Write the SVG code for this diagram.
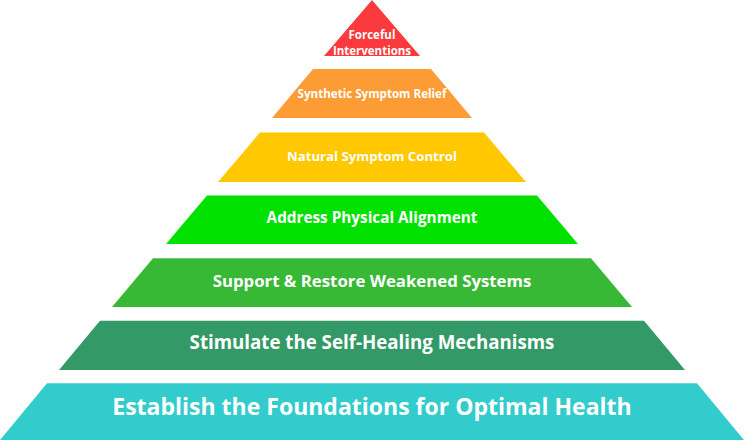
<svg xmlns="http://www.w3.org/2000/svg" width="744" height="440" viewBox="0 0 744 440">
<style>
.t{font-family:"Open Sans","Liberation Sans",sans-serif;font-weight:700;fill:#fff;text-anchor:middle}
</style>
<rect width="744" height="440" fill="#fff"/>
<g id="level1">
<polygon points="372,0 420,56 324,56" fill="#FA3A3C"/>
<text class="t" x="372" y="39" font-size="11.5">Forceful</text>
<text class="t" x="372" y="55" font-size="11.5">Interventions</text>
</g>
<g id="level2">
<polygon points="313,69 431,69 472,118 272,118" fill="#FD9C35"/>
<text class="t" x="372" y="98" font-size="11.6">Synthetic Symptom Relief</text>
</g>
<g id="level3">
<polygon points="260,132.5 484,132.5 526,182 218,182" fill="#FFC800"/>
<text class="t" x="372" y="161" font-size="13.2">Natural Symptom Control</text>
</g>
<g id="level4">
<polygon points="207,195.5 537,195.5 578,244 166,244" fill="#00E100"/>
<text class="t" x="372" y="223" font-size="15.3">Address Physical Alignment</text>
</g>
<g id="level5">
<polygon points="153,258.3 591,258.3 632,307 112,307" fill="#38B935"/>
<text class="t" x="372" y="287" font-size="16.8">Support &amp; Restore Weakened Systems</text>
</g>
<g id="level6">
<polygon points="100,320.7 644,320.7 685,370 59,370" fill="#339966"/>
<text class="t" x="372" y="349" font-size="18.7">Stimulate the Self-Healing Mechanisms</text>
</g>
<g id="level7">
<polygon points="47,383.3 697,383.3 744,440 0,440" fill="#33CCCC"/>
<text class="t" x="372" y="415" font-size="23">Establish the Foundations for Optimal Health</text>
</g>
<g id="connectors"/>
</svg>
